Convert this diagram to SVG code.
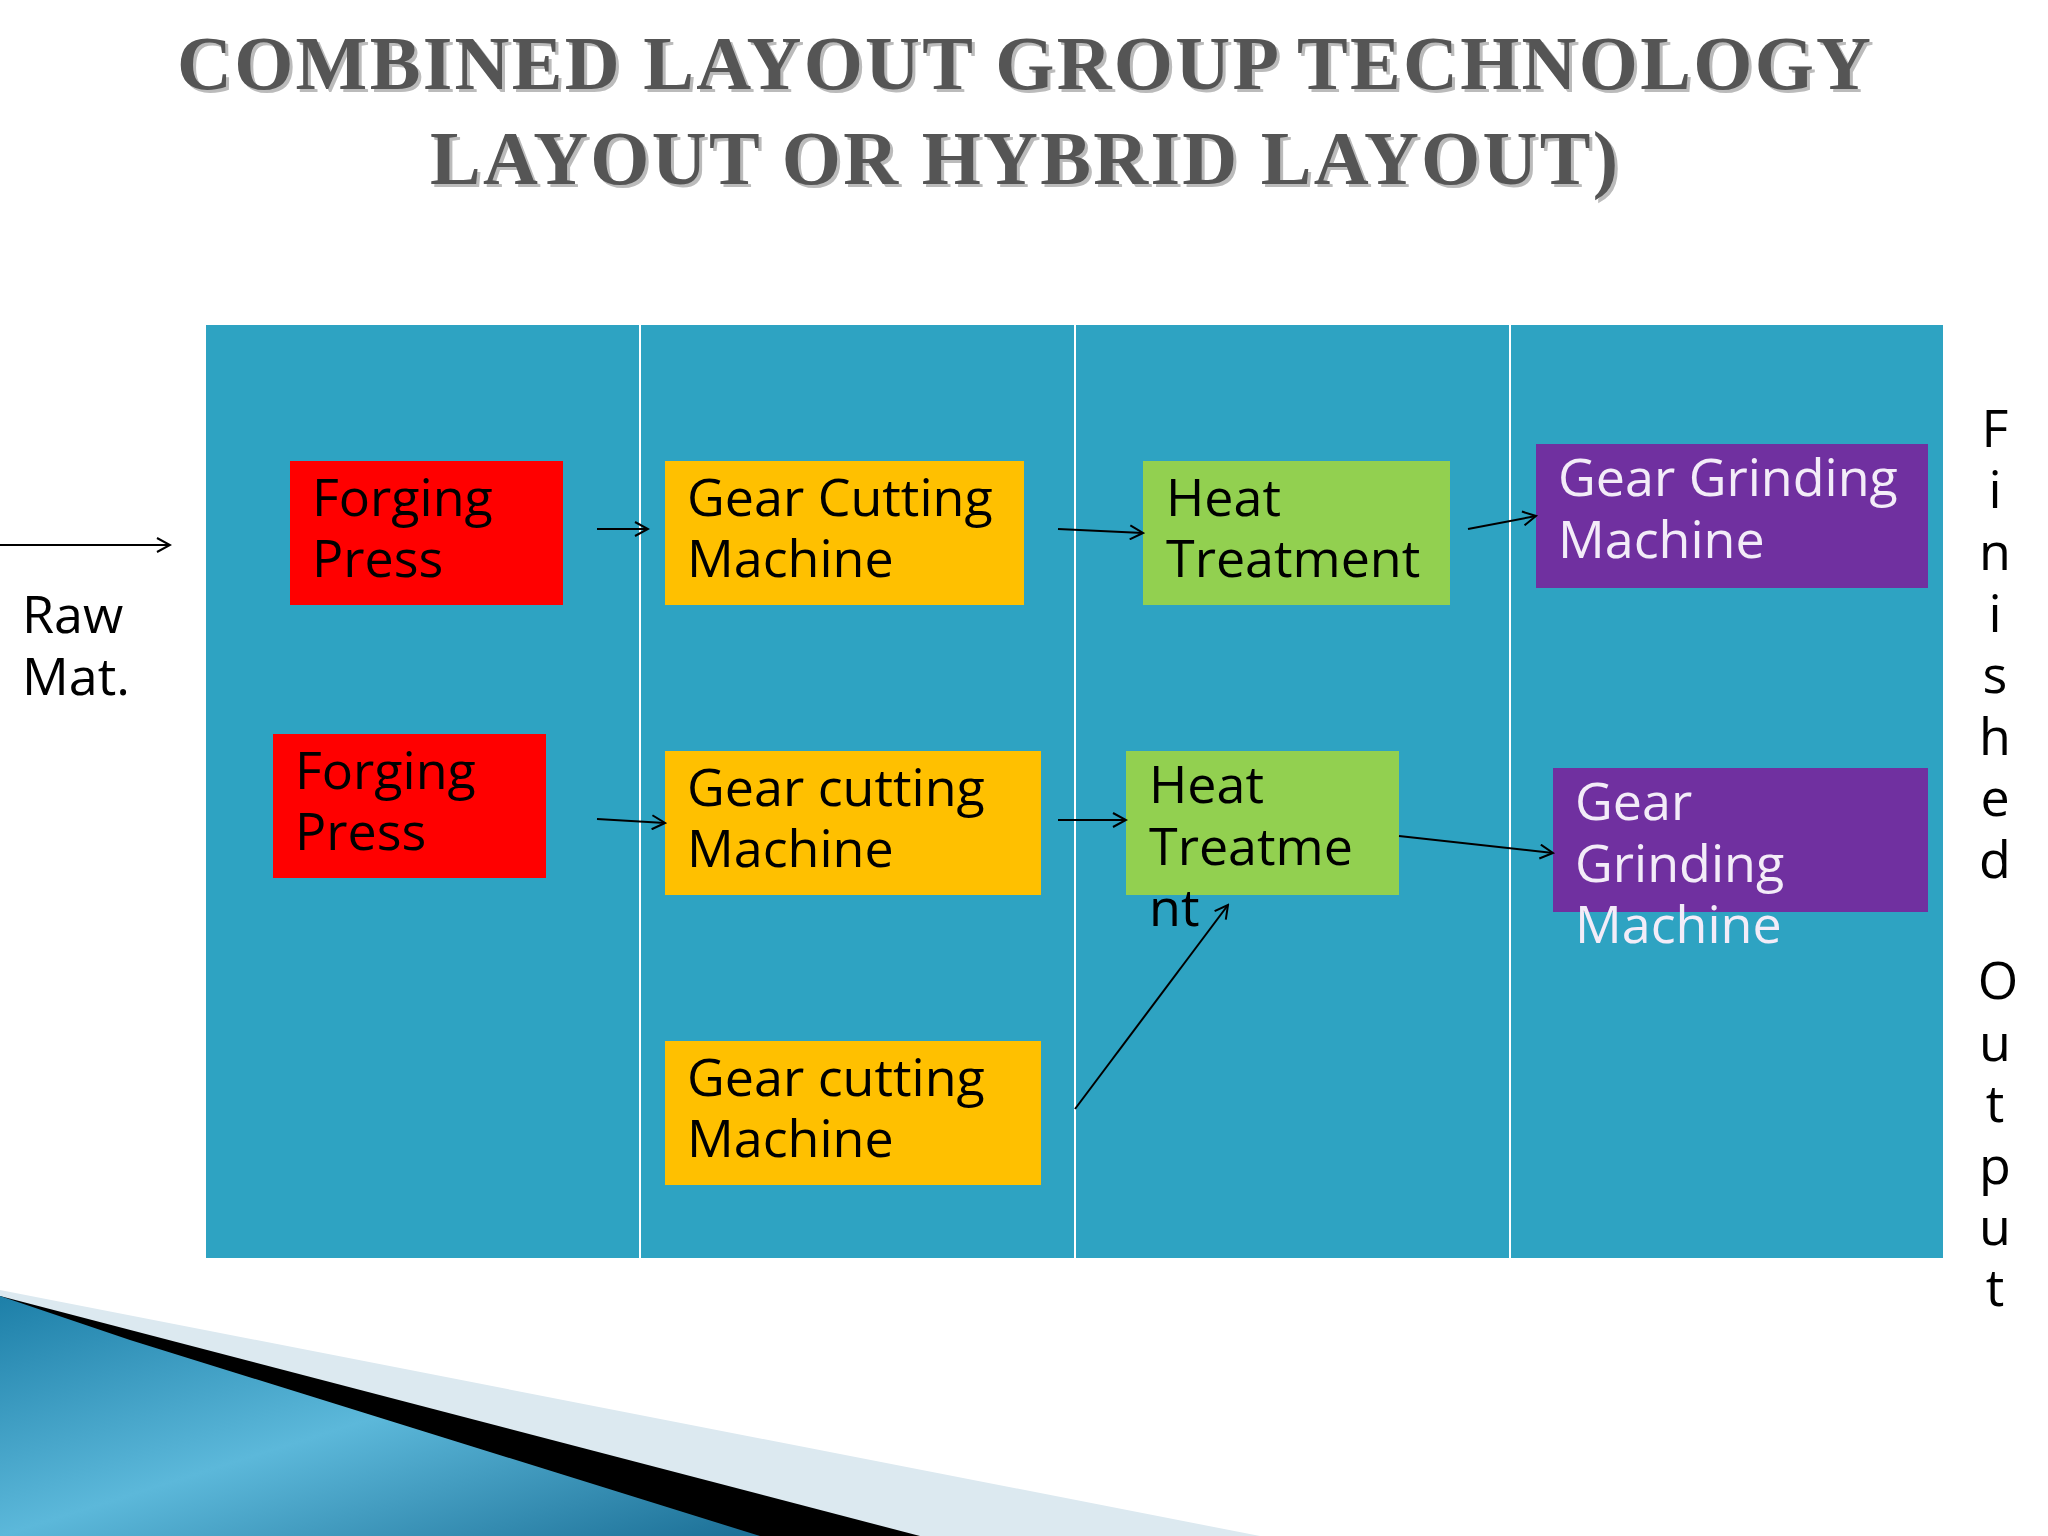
<svg xmlns="http://www.w3.org/2000/svg" width="2048" height="1536" viewBox="0 0 2048 1536">
<defs>
<style>
.t{font-family:"Open Sans","DejaVu Sans",sans-serif;font-size:52px;fill:#000}
.w{fill:#f3ecf8}
.ttl{font-family:"Liberation Serif",serif;font-weight:bold;font-size:76px;fill:#555;text-anchor:middle}
.c{stroke:#000;stroke-width:2;fill:none;marker-end:url(#a)}
</style>
<marker id="a" markerWidth="16" markerHeight="16" refX="14" refY="8" orient="auto" markerUnits="userSpaceOnUse"><path d="M1,1 L14,8 L1,15" fill="none" stroke="#000" stroke-width="2"/></marker>
<linearGradient id="g" x1="0" y1="0" x2="1" y2="1"><stop offset="0" stop-color="#1d7fa8"/><stop offset="0.5" stop-color="#5cb8da"/><stop offset="1" stop-color="#1b6f96"/></linearGradient>
</defs>
<rect width="2048" height="1536" fill="#fff"/>
<g id="title">
<text class="ttl" x="1027" y="92" fill="#aaa" style="fill:#bbb" textLength="1694">COMBINED LAYOUT GROUP TECHNOLOGY</text>
<text class="ttl" x="1024" y="89" textLength="1694">COMBINED LAYOUT GROUP TECHNOLOGY</text>
<text class="ttl" x="1027" y="187" style="fill:#bbb" textLength="1188">LAYOUT OR HYBRID LAYOUT)</text>
<text class="ttl" x="1024" y="184" textLength="1188">LAYOUT OR HYBRID LAYOUT)</text>
</g>
<g id="swoosh">
<polygon points="0,1290 1260,1536 0,1536" fill="#dce9f0"/>
<polygon points="0,1296 920,1536 0,1536" fill="#000"/>
<polygon points="0,1296 130,1340 760,1536 0,1536" fill="url(#g)"/>
</g>
<g id="panel">
<rect x="206" y="325" width="1737" height="933" fill="#2ea3c2"/>
<line x1="640" y1="325" x2="640" y2="1258" stroke="#fff" stroke-width="2"/>
<line x1="1075" y1="325" x2="1075" y2="1258" stroke="#fff" stroke-width="2"/>
<line x1="1510" y1="325" x2="1510" y2="1258" stroke="#fff" stroke-width="2"/>
</g>
<g id="fp1"><rect x="290" y="461" width="273" height="144" fill="#ff0000"/><text class="t" x="312" y="516">Forging</text><text class="t" x="312" y="577">Press</text></g>
<g id="fp2"><rect x="273" y="734" width="273" height="144" fill="#ff0000"/><text class="t" x="295" y="789">Forging</text><text class="t" x="295" y="850">Press</text></g>
<g id="gc1"><rect x="665" y="461" width="359" height="144" fill="#ffc000"/><text class="t" x="687" y="516">Gear Cutting</text><text class="t" x="687" y="577">Machine</text></g>
<g id="gc2"><rect x="665" y="751" width="376" height="144" fill="#ffc000"/><text class="t" x="687" y="806">Gear cutting</text><text class="t" x="687" y="867">Machine</text></g>
<g id="gc3"><rect x="665" y="1041" width="376" height="144" fill="#ffc000"/><text class="t" x="687" y="1096">Gear cutting</text><text class="t" x="687" y="1157">Machine</text></g>
<g id="ht1"><rect x="1143" y="461" width="307" height="144" fill="#92d050"/><text class="t" x="1166" y="516">Heat</text><text class="t" x="1166" y="577">Treatment</text></g>
<g id="ht2"><rect x="1126" y="751" width="273" height="144" fill="#92d050"/><text class="t" x="1149" y="803">Heat</text><text class="t" x="1149" y="865">Treatme</text><text class="t" x="1149" y="926">nt</text></g>
<g id="gg1"><rect x="1536" y="444" width="392" height="144" fill="#7030a0"/><text class="t w" x="1558" y="496">Gear Grinding</text><text class="t w" x="1558" y="558">Machine</text></g>
<g id="gg2"><rect x="1553" y="768" width="375" height="144" fill="#7030a0"/><text class="t w" x="1575" y="820">Gear</text><text class="t w" x="1575" y="882">Grinding</text><text class="t w" x="1575" y="943">Machine</text></g>
<g id="raw"><text class="t" x="22" y="633">Raw</text><text class="t" x="22" y="695">Mat.</text></g>
<g id="out" class="t" text-anchor="middle">
<text class="t" x="1995" y="447">F</text><text class="t" x="1995" y="508">i</text><text class="t" x="1995" y="570">n</text><text class="t" x="1995" y="632">i</text><text class="t" x="1995" y="693">s</text><text class="t" x="1995" y="755">h</text><text class="t" x="1995" y="816">e</text><text class="t" x="1995" y="878">d</text>
<text class="t" x="1998" y="999">O</text><text class="t" x="1995" y="1061">u</text><text class="t" x="1995" y="1122">t</text><text class="t" x="1995" y="1184">p</text><text class="t" x="1995" y="1245">u</text><text class="t" x="1995" y="1306">t</text>
</g>
<g id="connectors">
<line class="c" x1="0" y1="545" x2="170" y2="545"/>
<line class="c" x1="597" y1="529" x2="648" y2="529"/>
<line class="c" x1="1058" y1="529" x2="1143" y2="533"/>
<line class="c" x1="1468" y1="529" x2="1536" y2="516"/>
<line class="c" x1="597" y1="819" x2="665" y2="823"/>
<line class="c" x1="1058" y1="820" x2="1126" y2="820"/>
<line class="c" x1="1399" y1="836" x2="1553" y2="853"/>
<line class="c" x1="1075" y1="1109" x2="1228" y2="905"/>
</g>
</svg>
